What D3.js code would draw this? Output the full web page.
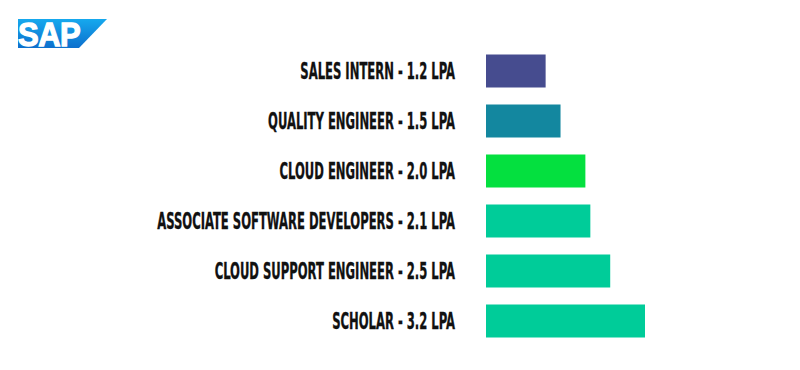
<!DOCTYPE html>
<html>
<head>
<meta charset="utf-8">
<script src="https://cdn.jsdelivr.net/npm/d3@7"></script>
<style>
  html, body { margin: 0; padding: 0; background: #ffffff; }
  svg { display: block; }
</style>
</head>
<body>
<svg id="chart" width="800" height="370"></svg>
<script>
// ---- data ----
const roles = ["Sales Intern", "Quality Engineer", "Cloud Engineer",
               "Associate Software Developers", "Cloud Support Engineer", "Scholar"];
const salaries = [1.2, 1.5, 2.0, 2.1, 2.5, 3.2];
const unit = "LPA";
const barColors = ["#464c8f", "#13879f", "#04e03f", "#00cc99", "#00cc99", "#00cc99"];

// ---- layout ----
const svg = d3.select("#chart");
const W = 800, H = 370;
svg.append("rect").attr("width", W).attr("height", H).attr("fill", "#fff");

const barLeft = 486;
const x = d3.scaleLinear().domain([0, 3.2]).range([0, 159]);
const y = d3.scaleBand().domain(roles).range([46, 346]).paddingInner(0.34).paddingOuter(0.17);

// bars
svg.selectAll("rect.bar")
  .data(roles)
  .join("rect")
  .attr("class", "bar")
  .attr("x", barLeft)
  .attr("y", d => y(d))
  .attr("width", (d, i) => x(salaries[i]))
  .attr("height", y.bandwidth())
  .attr("fill", (d, i) => barColors[i]);

// labels
const labelRight = 455;
const labels = svg.selectAll("text.lbl")
  .data(roles)
  .join("text")
  .attr("class", "lbl")
  .attr("text-anchor", "end")
  .attr("font-family", "'Liberation Sans Narrow', 'DejaVu Sans Condensed', 'Roboto Condensed', sans-serif")
  .attr("font-weight", "bold")
  .attr("font-size", 20)
  .attr("fill", "#111")
  .attr("stroke", "#111")
  .attr("stroke-width", 0.3)
  .attr("dy", "0.36em")
  .text((d, i) => `${d.toUpperCase()} - ${salaries[i].toFixed(1)} ${unit}`);

// compress horizontally so the longest label fits the reference width (condensed display face)
let maxLen = 0;
labels.each(function() { maxLen = Math.max(maxLen, this.getComputedTextLength()); });
const sx = Math.min(1, 298 / maxLen);
labels.attr("transform", d => `translate(${labelRight},${y(d) + y.bandwidth() / 2}) scale(${sx},1.12)`);

// SAP logo
const defs = svg.append("defs");
const grad = defs.append("linearGradient").attr("id", "sapGrad")
  .attr("x1", 0).attr("y1", 0).attr("x2", 0).attr("y2", 1);
grad.append("stop").attr("offset", "0%").attr("stop-color", "#16a9ee");
grad.append("stop").attr("offset", "100%").attr("stop-color", "#0c6fcd");
const logo = svg.append("g").attr("transform", "translate(18,19)");
logo.append("polygon").attr("points", "0,0 89,0 61,29 0,29").attr("fill", "url(#sapGrad)");
logo.append("text")
  .attr("x", 0).attr("y", 25.5)
  .attr("font-family", "'Liberation Sans', Arial, sans-serif")
  .attr("font-weight", "bold")
  .attr("font-size", 31)
  .attr("letter-spacing", -0.5)
  .attr("fill", "#fff")
  .attr("stroke", "#fff")
  .attr("stroke-width", 1.2)
  .attr("transform", "scale(1,1.05)")
  .text("SAP");
</script>
</body>
</html>
